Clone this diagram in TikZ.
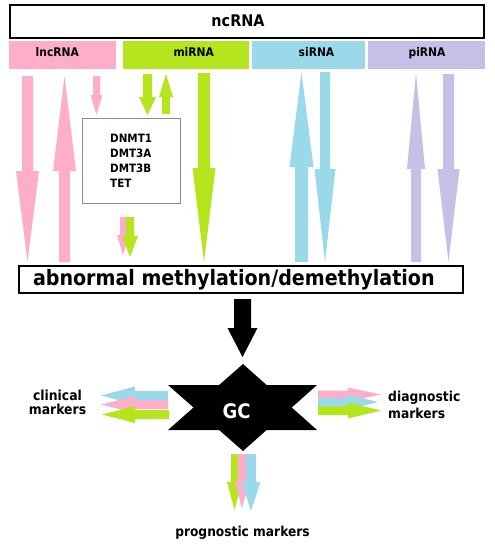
\documentclass[tikz,border=0pt]{standalone}
\usepackage{fontspec}
\setmainfont{DejaVu Sans}[FakeStretch=0.9]
\definecolor{pk}{HTML}{FFAEC9}
\definecolor{gr}{HTML}{B5E61D}
\definecolor{bl}{HTML}{99D9EA}
\definecolor{lv}{HTML}{C8BFE7}
% vertical block arrow: colour, x, shaft half width, head half width, y start, y head base, y tip
\newcommand{\vblk}[7]{%
  \fill[#1] ({#2-#3},#5) -- ({#2+#3},#5) -- ({#2+#3},#6) -- ({#2+#4},#6) -- (#2,#7)
    -- ({#2-#4},#6) -- ({#2-#3},#6) -- cycle;}
% horizontal block arrow: colour, y, shaft half height, head half height, x start, x head base, x tip
\newcommand{\hblk}[7]{%
  \fill[#1] (#5,{#2-#3}) -- (#5,{#2+#3}) -- (#6,{#2+#3}) -- (#6,{#2+#4}) -- (#7,#2)
    -- (#6,{#2-#4}) -- (#6,{#2-#3}) -- cycle;}
\tikzset{
  lbl/.style={inner sep=0pt, outer sep=0pt, font=\bfseries\fontsize{#1}{#1}\selectfont},
  bar/.style={fill=#1, inner sep=0pt, minimum height=28pt},
}
\begin{document}
\begin{tikzpicture}[x=1pt, y=-1pt]
\useasboundingbox[fill=white] (0,0) rectangle (495,550);

% top box
\node[draw, line width=1.6pt, minimum width=474pt, minimum height=33pt, inner sep=0pt] (nc) at (247,21.5) {};
\node[lbl=16, anchor=base] (nct) at (238,26.7) {ncRNA};

% header bars
\node[bar=pk, minimum width=107pt] (lncbar) at (62.5,55) {};
\node[bar=gr, minimum width=126pt] (mibar) at (186,55) {};
\node[bar=bl, minimum width=113pt] (sibar) at (308.5,55) {};
\node[bar=lv, minimum width=117pt] (pibar) at (426.5,55) {};
\node[lbl=11.9, anchor=base] (lnct) at (57.3,56.5) {lncRNA};
\node[lbl=11.9, anchor=base] (mit) at (193.7,56.5) {miRNA};
\node[lbl=11.9, anchor=base] (sit) at (316.5,56.5) {siRNA};
\node[lbl=11.9, anchor=base] (pit) at (427,56.5) {piRNA};

% enzyme box
\node[draw=gray!90, line width=0.8pt, minimum width=98pt, minimum height=85pt, inner sep=0pt] (enz) at (131,160.5) {};
\node[inner sep=0pt, anchor=west, align=left, font=\bfseries\fontsize{11.5}{14.7}\selectfont] (enzt) at (110,160.8)
  {DNMT1\\DMT3A\\DMT3B\\TET};

% lncRNA arrows
\vblk{pk}{27.5}{5.5}{11.5}{76}{171}{262}
\vblk{pk}{64.5}{5.5}{11.5}{262}{171}{76}
\vblk{pk}{96.5}{3.5}{6}{76}{95}{115}
% miRNA arrows
\vblk{gr}{147.5}{4.5}{8.5}{74}{97}{115}
\vblk{gr}{166}{4}{7}{114}{97}{74}
\vblk{gr}{204}{6}{11.5}{73}{168}{262}
% arrows under enzyme box
\vblk{pk}{123}{3}{6}{217}{235}{255}
\vblk{gr}{130}{4}{8}{217}{236}{257}
% siRNA arrows
\vblk{bl}{301.5}{6.5}{12}{262}{167}{72}
\vblk{bl}{325}{5}{10.5}{72}{169}{262}
% piRNA arrows
\vblk{lv}{416}{5}{9}{262}{169}{73}
\vblk{lv}{448.5}{5.5}{11}{74}{169}{262}

% abnormal box
\node[draw, line width=1.6pt, minimum width=444pt, minimum height=27pt, inner sep=0pt] (ab) at (241,279.5) {};
\node[lbl=21.2, anchor=base west] (abt) at (33,285.6) {abnormal methylation/demethylation};

% black arrow
\vblk{black}{242.5}{8.5}{15}{299}{328}{357}

% star
\fill[black] (243,364) -- (317,430) -- (168,430) -- cycle;
\fill[black] (243,451) -- (168,385) -- (317,385) -- cycle;
\node[lbl=20, text=white, anchor=base] (gc) at (236.5,418.3) {GC};

% left arrows
\hblk{bl}{395.5}{4.5}{9}{168}{135}{101}
\hblk{pk}{404.5}{4.5}{8.5}{168}{135}{101}
\hblk{gr}{414.5}{4.5}{8.5}{169}{135}{102}
% right arrows
\hblk{pk}{394.5}{4}{7}{318}{348}{381}
\hblk{bl}{402}{4}{7.5}{318}{348}{378}
\hblk{gr}{410.5}{4.5}{8}{318}{348}{381}
% bottom arrows
\vblk{gr}{234.5}{3.5}{7.5}{454}{482}{510}
\vblk{pk}{242}{4.5}{7.5}{454}{482}{508}
\vblk{bl}{251}{5}{9.5}{454}{482}{511}

% labels
\node[inner sep=0pt, align=center, font=\bfseries\fontsize{13.8}{14.3}\selectfont] (clin) at (57.5,402.6) {clinical\\markers};
\node[inner sep=0pt, anchor=west, align=left, font=\bfseries\fontsize{13.7}{16.6}\selectfont] (diag) at (388,404.8) {diagnostic\\markers};
\node[lbl=13.6, anchor=base] (prog) at (242.5,536.6) {prognostic markers};
\end{tikzpicture}
\end{document}
